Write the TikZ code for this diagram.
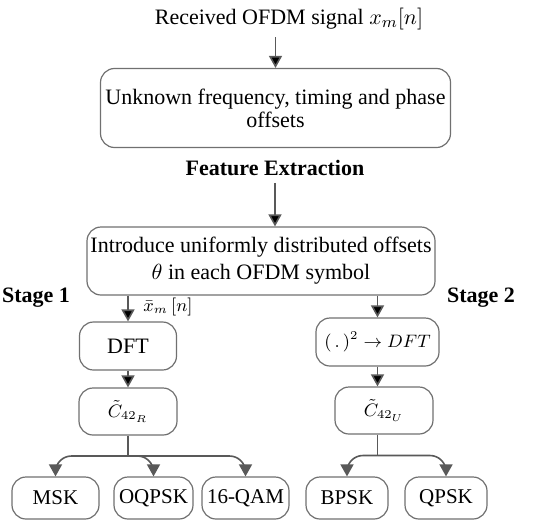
\documentclass[tikz,border=0pt]{standalone}
\usepackage{fontspec}
\setmainfont{Liberation Serif}
\usetikzlibrary{calc,arrows.meta}
\definecolor{linegray}{HTML}{595959}
\definecolor{boxgray}{HTML}{707070}
\begin{document}
\begin{tikzpicture}[x=0.5pt,y=-0.5pt,>={Triangle[length=6pt,width=6.5pt]},
    blk/.style={draw=boxgray,line width=0.6pt,rounded corners=7pt,align=center,
      inner sep=0pt,font=\fontsize{11}{11.5}\selectfont},
    leaf/.style={blk,minimum height=21pt,font=\fontsize{10.5}{12}\selectfont},
    flow/.style={draw=linegray,line width=0.8pt},
    stage/.style={font=\fontsize{11}{13}\selectfont\bfseries}]
    \useasboundingbox (0,0) rectangle (550,530);

    \node[font=\fontsize{11}{13}\selectfont] (rx) at (289,19) {Received OFDM signal $x_m[n]$};
    \node[blk,minimum width=175pt,minimum height=39.5pt] (offs) at (275.5,108)
      {Unknown frequency, timing and phase\\offsets};
    \node[stage] (feat) at (275,168) {Feature Extraction};
    \node[blk,minimum width=174pt,minimum height=34pt] (intro) at (261,261)
      {Introduce uniformly distributed offsets\\[2pt]$\theta$ in each OFDM symbol};

    \node[stage] (st1) at (36,298) {Stage 1};
    \node[stage] (st2) at (481,298) {Stage 2};

    \node[blk,minimum width=48.5pt,minimum height=24pt] (dft) at (128,346) {DFT};
    \node[blk,minimum width=61.5pt,minimum height=24pt,font=\fontsize{9}{11}\selectfont] (sq) at (377.5,342)
      {$(\,.\,)^2\rightarrow DFT$};
    \node[blk,minimum width=49pt,minimum height=23.5pt,font=\fontsize{9}{11}\selectfont] (cR) at (128,411.5)
      {$\tilde{C}_{42_R}$};
    \node[blk,minimum width=49pt,minimum height=23.5pt,font=\fontsize{9}{11}\selectfont] (cU) at (384,410.5)
      {$\tilde{C}_{42_U}$};

    \node[leaf,minimum width=43.5pt] (msk)   at (55.5,498)  {MSK};
    \node[leaf,minimum width=39.5pt] (oqpsk) at (153.5,498) {OQPSK};
    \node[leaf,minimum width=43.5pt] (qam)   at (245.5,498) {16-QAM};
    \node[leaf,minimum width=41pt]   (bpsk)  at (347,498)   {BPSK};
    \node[leaf,minimum width=41pt]   (qpsk)  at (446,498)   {QPSK};

    \coordinate (splitR) at ($(cR.south)!.5!(cR.south |- msk.north)$);
    \coordinate (splitU) at ($(sq.south |- cU.south)!.5!(sq.south |- bpsk.north)$);

    \path[flow] (offs.north |- rx.south)   edge[->] (offs.north)
                (feat.south)               edge[->] (feat.south |- intro.north)
                (dft.north |- intro.south) edge[->] node[right=4pt,pos=.45,font=\fontsize{9}{11}\selectfont,text=black] (xbar) {$\bar{x}_m\,[n]$} (dft.north)
                (sq.north |- intro.south)  edge[->] (sq.north)
                (dft.south)                edge[->] (cR.north)
                (sq.south)                 edge[->] (sq.south |- cU.north)
                (cR.south)                 edge (splitR)
                (sq.south |- cU.south)     edge (splitU);

    \foreach \t in {msk,oqpsk,qam} {\draw[flow,->,rounded corners=8pt] (splitR) -| (\t.north);};
    \foreach \t in {bpsk,qpsk} {\draw[flow,->,rounded corners=8pt] (splitU) -| (\t.north);};
  \end{tikzpicture}
\end{document}
